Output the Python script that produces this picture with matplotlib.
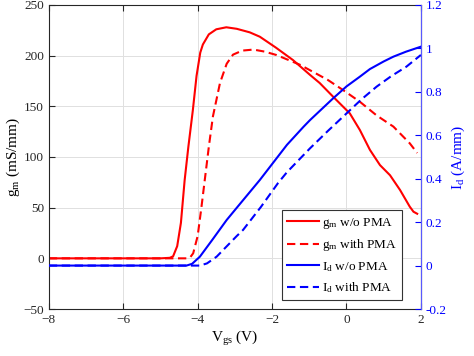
import matplotlib
matplotlib.use("Agg")
import matplotlib.pyplot as plt

plt.rcParams['font.family'] = ['Liberation Serif', 'DejaVu Serif']
plt.rcParams['mathtext.fontset'] = 'custom'
plt.rcParams['mathtext.rm'] = 'Liberation Serif'
plt.rcParams['mathtext.it'] = 'Liberation Serif:italic'

# gm without PMA (mS/mm)
gm_wo_x = [-8, -7, -6, -5, -4.75, -4.66, -4.55, -4.45, -4.35, -4.25, -4.13, -4.03,
           -3.93, -3.86, -3.7, -3.5, -3.23, -2.95, -2.6, -2.33, -1.9, -1.44, -0.98,
           -0.72, -0.36, 0.09, 0.36, 0.63, 0.90, 1.17, 1.44, 1.70, 1.80, 1.90]
gm_wo_y = [0, 0, 0, 0, 0.5, 2, 12, 35, 77, 110, 146, 180,
           203, 211, 221, 226, 228, 226.5, 223, 218.7, 208, 195.7, 181,
           173, 159.5, 143, 126.6, 107, 92, 82, 67.4, 51, 46, 44]

# gm with PMA (mS/mm)
gm_with_x = [-8, -6, -4.5, -4.3, -4.2, -4.12, -4.0, -3.9, -3.81, -3.7, -3.59, -3.4,
             -3.22, -3.05, -2.8, -2.5, -2.2, -1.88, -1.25, -0.9, -0.5, -0.09, 0.36,
             0.81, 1.26, 1.70, 1.90]
gm_with_y = [0, 0, 0, 0, 1, 5, 22, 50, 77, 110, 140, 173,
             192, 201, 205, 206, 204, 200.6, 191, 184, 176, 166, 154.5,
             141, 130, 113.5, 104]

# Id without PMA (A/mm)
id_wo_x = [-8, -6, -4.5, -4.3, -4.15, -3.94, -3.6, -3.22, -2.95, -2.33, -1.6, -1.15,
           -0.98, -0.36, 0.0, 0.36, 0.63, 1.0, 1.26, 1.6, 2.0]
id_wo_y = [0, 0, 0, 0, 0.008, 0.041, 0.12, 0.21, 0.266, 0.394, 0.556, 0.64,
           0.67, 0.77, 0.825, 0.87, 0.905, 0.94, 0.962, 0.985, 1.008]

# Id with PMA (A/mm)
id_with_x = [-8, -6, -4.2, -3.94, -3.75, -3.49, -2.95, -2.78, -2.3, -1.84, -1.6,
             -0.98, -0.5, -0.09, 0.4, 0.81, 1.2, 1.61, 2.0]
id_with_y = [0, 0, 0, 0, 0.01, 0.041, 0.136, 0.164, 0.27, 0.38, 0.43,
             0.54, 0.62, 0.686, 0.765, 0.824, 0.872, 0.916, 0.97]

red = (1, 0, 0)
blue = (0, 0, 1)
dash = (4, 2.2)

fig = plt.figure(figsize=(4.74, 3.56), dpi=100)
ax = fig.add_axes([0.103, 0.132, 0.785, 0.854])
ax2 = ax.twinx()

l1, = ax.plot(gm_wo_x, gm_wo_y, color=red, lw=1.5, label=r'$\mathrm{g_m}$ w/o PMA')
l2, = ax.plot(gm_with_x, gm_with_y, color=red, lw=1.5, dashes=dash,
              label=r'$\mathrm{g_m}$ with PMA')
l3, = ax2.plot(id_wo_x, id_wo_y, color=blue, lw=1.5, label=r'$\mathrm{I_d}$ w/o PMA')
l4, = ax2.plot(id_with_x, id_with_y, color=blue, lw=1.5, dashes=dash,
               label=r'$\mathrm{I_d}$ with PMA')

ax.set_xlim(-8, 2)
ax.set_ylim(-50, 250)
ax.set_xticks([-8, -6, -4, -2, 0, 2])
ax.set_yticks([-50, 0, 50, 100, 150, 200, 250])
ax.grid(True, color=(0.88, 0.88, 0.88), lw=0.7)
ax.set_axisbelow(True)
ax.tick_params(direction='in', top=True, right=False, labelsize=9.5,
               colors=(0.15, 0.15, 0.15), length=4)
for s in ['left', 'bottom', 'top']:
    ax.spines[s].set_color((0.15, 0.15, 0.15))
ax.set_xlabel(r'$\mathrm{V_{gs}}$ (V)', fontsize=11, labelpad=2)
ax.set_ylabel(r'$\mathrm{g_m}$ (mS/mm)', fontsize=11, labelpad=1)

ax2.set_ylim(-0.2, 1.2)
ax2.set_yticks([-0.2, 0, 0.2, 0.4, 0.6, 0.8, 1.0, 1.2])
ax2.set_yticklabels(['-0.2', '0', '0.2', '0.4', '0.6', '0.8', '1', '1.2'])
ax2.tick_params(direction='in', colors=blue, labelsize=9.5, length=4)
ax2.spines['right'].set_color((0.35, 0.35, 1))
ax2.spines['left'].set_visible(False)
ax2.spines['top'].set_visible(False)
ax2.spines['bottom'].set_visible(False)
ax2.set_ylabel(r'$\mathrm{I_d}$ (A/mm)', fontsize=11, color=blue, labelpad=2)

leg = ax2.legend(handles=[l1, l2, l3, l4], loc='lower left',
                 bbox_to_anchor=(0.62, 0.02), fontsize=9.5, fancybox=False,
                 edgecolor=(0.2, 0.2, 0.2), framealpha=1, handlelength=2.4,
                 borderpad=0.4, labelspacing=0.5, handletextpad=0.2,
                 borderaxespad=0.2)
leg.get_frame().set_linewidth(0.8)

fig.savefig("out.png", dpi=100)
